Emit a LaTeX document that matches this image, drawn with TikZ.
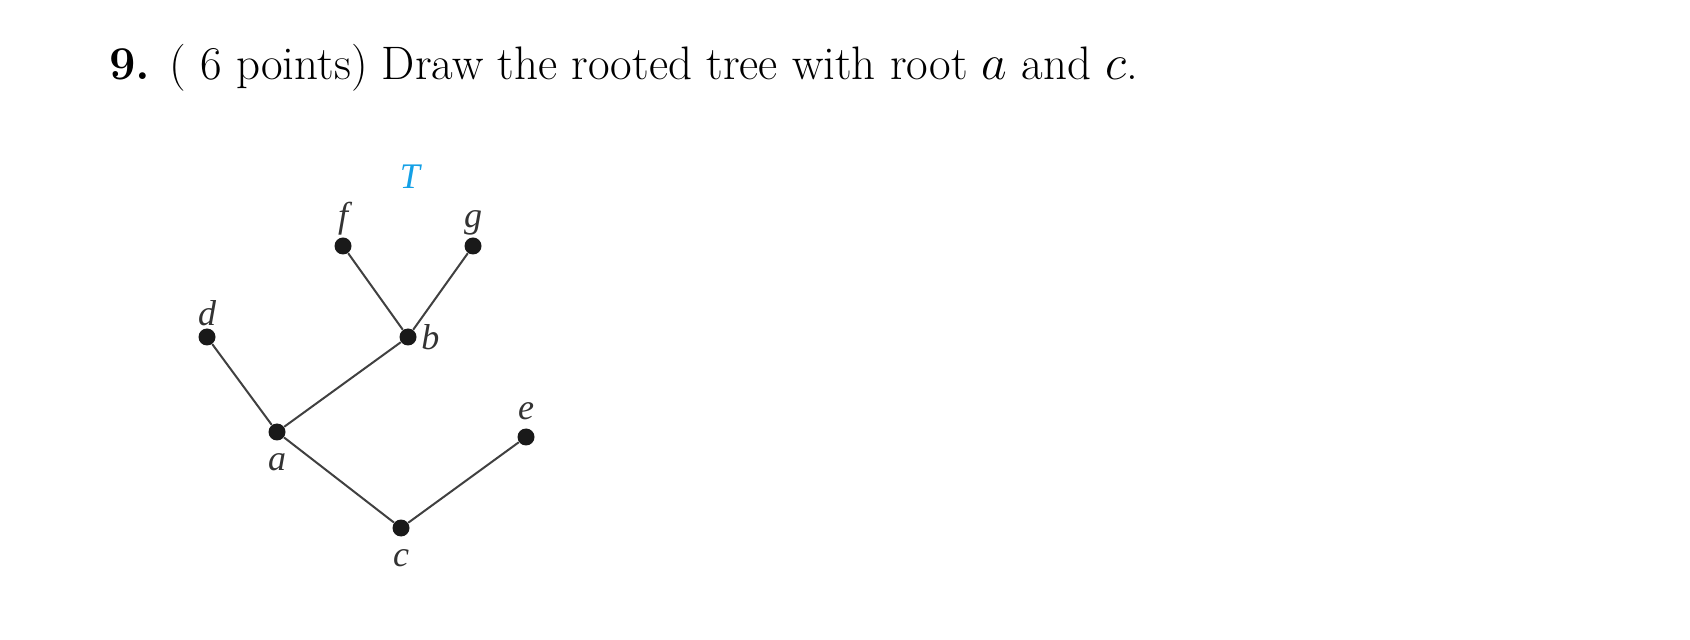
\documentclass[tikz,border=0pt]{standalone}
\usepackage{fontspec}
\newfontfamily\treefont{Liberation Serif}
\usetikzlibrary{positioning}
\definecolor{tblue}{RGB}{20,160,230}
\tikzstyle{vtx} = [circle, fill=black!90, inner sep=0pt, minimum size=8.5pt,
    label distance=4pt]
\tikzstyle{lbl} = [font=\treefont\itshape\fontsize{18}{20}\selectfont, text=black!80, inner sep=1pt]

\begin{document}
\begin{tikzpicture}[x=0.5pt,y=-0.5pt,every label/.style={lbl}]
  \useasboundingbox (0,0) rectangle (1690,640);

  \node[anchor=base west, inner sep=0pt, font=\fontsize{23.5}{28}\selectfont]
    (title) at (109,80) {\textbf{9.} ( 6 points) Draw the rooted tree with root $a$ and $c$.};

  \node[vtx, label=above:f]  (f) at (343,246) {};
  \node[vtx, label={[label distance=0pt]above:g}]  (g) at (473,246) {};
  \node[vtx, label=above:d]  (d) at (207,337) {};
  \node[vtx, label={[label distance=1pt]right:b}]  (b) at (408,337) {};
  \node[vtx, label={[label distance=5pt]below:a}]  (a) at (277,432) {};
  \node[vtx, label={[label distance=3pt]above:e}]  (e) at (526,437) {};
  \node[vtx, label={[label distance=5pt]below:c}]  (c) at (401,528) {};
  \node[lbl, text=tblue]     (T) at (410,177) {T};

  \path[draw=black!75, line width=1pt]
  (f) edge (b)
  (g) edge (b)
  (d) edge (a)
  (b) edge (a)
  (a) edge (c)
  (e) edge (c);
\end{tikzpicture}
\end{document}
